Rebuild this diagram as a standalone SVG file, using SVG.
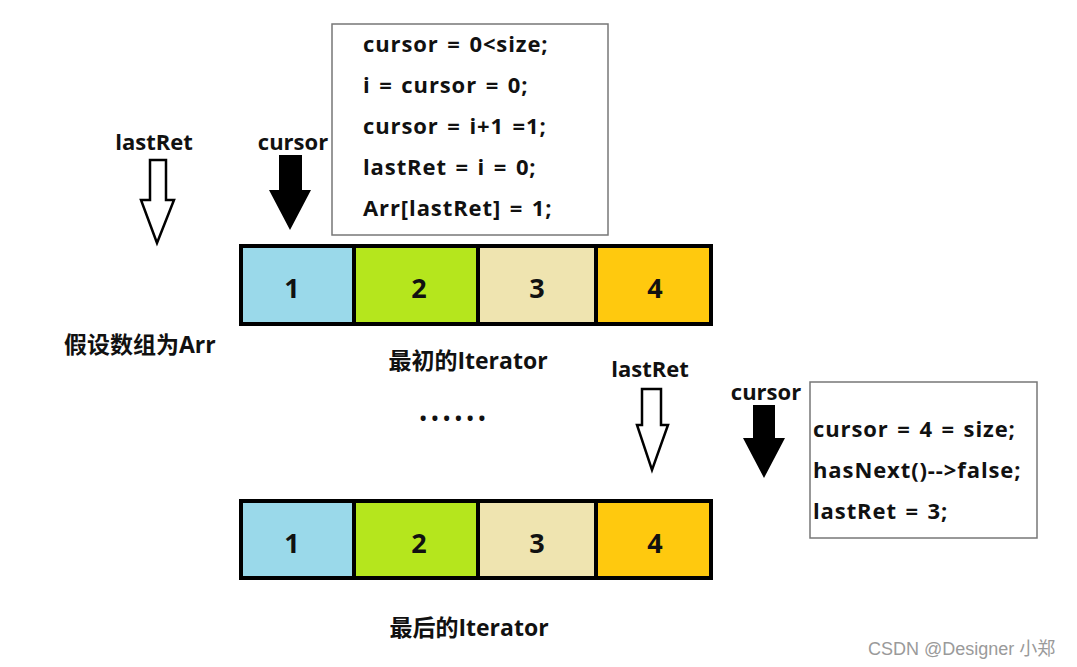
<svg xmlns="http://www.w3.org/2000/svg" width="1077" height="667" viewBox="0 0 1077 667">
<style>
.t{font-family:"Open Sans","Noto Sans CJK SC",sans-serif;font-weight:bold;fill:#111;}
.code{font-size:22px;word-spacing:2px;letter-spacing:0.9px;}
.lbl{font-size:22px;}
.cn{font-size:23px;}
.num{font-size:27px;text-anchor:middle;}
.cell{stroke:#000;stroke-width:4;}
.box{fill:#fff;stroke:#777;stroke-width:1.5;}
.hollow{fill:#fff;stroke:#000;stroke-width:2.5;stroke-linejoin:miter;}
.solid{fill:#000;}
</style>
<rect width="1077" height="667" fill="#fff"/>

<g id="initial-array">
<rect class="cell" x="241" y="246" width="113" height="78" fill="#9ad9ea"/>
<rect class="cell" x="354" y="246" width="124" height="78" fill="#b5e61d"/>
<rect class="cell" x="478" y="246" width="118" height="78" fill="#efe4b0"/>
<rect class="cell" x="596" y="246" width="115" height="78" fill="#ffc90e"/>
<text class="t num" x="292" y="298">1</text>
<text class="t num" x="419" y="298">2</text>
<text class="t num" x="537" y="298">3</text>
<text class="t num" x="655" y="298">4</text>
</g>

<g id="final-array">
<rect class="cell" x="241" y="501" width="113" height="77" fill="#9ad9ea"/>
<rect class="cell" x="354" y="501" width="124" height="77" fill="#b5e61d"/>
<rect class="cell" x="478" y="501" width="118" height="77" fill="#efe4b0"/>
<rect class="cell" x="596" y="501" width="115" height="77" fill="#ffc90e"/>
<text class="t num" x="292" y="553">1</text>
<text class="t num" x="419" y="553">2</text>
<text class="t num" x="537" y="553">3</text>
<text class="t num" x="655" y="553">4</text>
</g>

<g id="code-initial">
<rect class="box" x="332" y="24" width="276" height="211"/>
<text class="t code" x="363" y="52">cursor = 0&lt;size;</text>
<text class="t code" x="363" y="93">i = cursor = 0;</text>
<text class="t code" x="363" y="134">cursor = i+1 =1;</text>
<text class="t code" x="363" y="175">lastRet = i = 0;</text>
<text class="t code" x="363" y="216">Arr[lastRet] = 1;</text>
</g>

<g id="code-final">
<rect class="box" x="810" y="382" width="227" height="156"/>
<text class="t code" x="813" y="437">cursor = 4 = size;</text>
<text class="t code" x="813" y="478">hasNext()--&gt;false;</text>
<text class="t code" x="813" y="519">lastRet = 3;</text>
</g>

<g id="lastRet-initial">
<text class="t lbl" x="154" y="150" text-anchor="middle">lastRet</text>
<polygon class="hollow" points="150,160 166,160 166,200 174,200 157,243 141,200 150,200"/>
</g>

<g id="cursor-initial">
<text class="t lbl" x="293" y="150" text-anchor="middle">cursor</text>
<polygon class="solid" points="279,155 302,155 302,190 311,190 290,230 269,190 279,190"/>
</g>

<g id="lastRet-final">
<text class="t lbl" x="650" y="377" text-anchor="middle">lastRet</text>
<polygon class="hollow" points="642,389 661,389 661,425 668,425 652,470 637,425 642,425"/>
</g>

<g id="cursor-final">
<text class="t lbl" x="766" y="400" text-anchor="middle">cursor</text>
<polygon class="solid" points="753,405 775,405 775,438 785,438 764,478 743,438 753,438"/>
</g>

<g id="labels">
<text class="t cn" x="64" y="353">假设数组为Arr</text>
<text class="t cn" x="468" y="369" text-anchor="middle">最初的Iterator</text>
<text class="t" x="455" y="425" font-size="18" text-anchor="middle" letter-spacing="5">••••••</text>
<text class="t cn" x="469" y="636" text-anchor="middle">最后的Iterator</text>
<text x="868" y="655" font-family="'Liberation Sans','Noto Sans CJK SC',sans-serif" font-size="18" fill="#9a9a9a">CSDN @Designer 小郑</text>
</g>
</svg>
